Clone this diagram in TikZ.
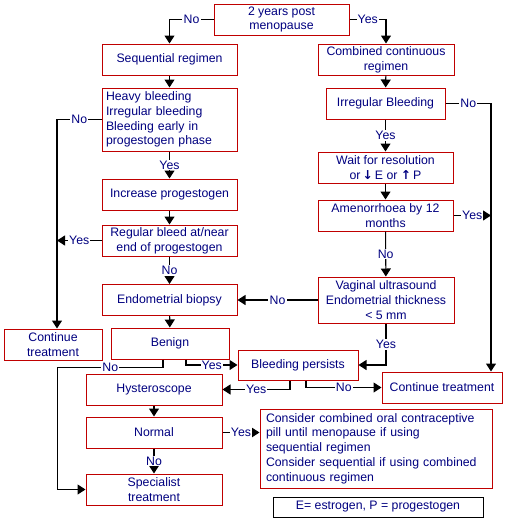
\documentclass[tikz,border=0pt]{standalone}
\usepackage{fontspec}
\setmainfont{Liberation Sans}
\newfontfamily\arrowfont{DejaVu Sans}
\usepackage{tikz}
\usepackage{xcolor}
\usetikzlibrary{arrows.meta}

\definecolor{navy}{RGB}{0,0,128}
\definecolor{boxred}{RGB}{192,0,0}

\begin{document}
\begin{tikzpicture}[x=1pt,y=-1pt,
    every node/.style={font=\fontsize{12.3}{14.8}\selectfont,text=navy},
    box/.style={draw=boxred,line width=1pt,minimum width=135pt,minimum height=31pt,
      align=center,inner sep=2pt},
    lbl/.style={fill=white,inner sep=1.2pt},
    arr/.style={line width=1.1pt,-{Triangle[length=8pt,width=10pt]}},
    con/.style={line width=1.1pt}]
  \useasboundingbox[fill=white] (0,0) rectangle (504,520);
  % left branch
  \node[box] (top) at (281.5,19.5) {2 years post\\menopause};
  \node[box] (seq) at (169.5,59.5) {Sequential regimen};
  \node[box,minimum height=63pt,text width=127pt,align=left,inner xsep=4pt]
    (heavy) at (169.5,119.5)
    {Heavy bleeding\\Irregular bleeding\\Bleeding early in\\progestogen phase};
  \node[box] (incr) at (169.5,194.5) {Increase progestogen};
  \node[box] (reg) at (169.5,240.5) {Regular bleed at/near\\end of progestogen};
  \node[box] (biopsy) at (169.5,300) {Endometrial biopsy};
  \node[box,minimum width=98pt] (cont1) at (53,344.5) {Continue\\treatment};
  \node[box,minimum width=118pt] (benign) at (170,343.5) {Benign};
  % right branch
  \node[box,minimum width=136pt] (comb) at (386,59.5) {Combined continuous\\regimen};
  \node[box,minimum width=119pt] (irreg) at (385.5,103.5) {Irregular Bleeding};
  \node[box] (wait) at (385.5,167.5)
    {Wait for resolution\\or\,{\arrowfont\bfseries ↓}\,E or {\arrowfont\bfseries ↑}\,P};
  \node[box] (amen) at (385.5,215.5) {Amenorrhoea by 12\\months};
  \node[box,minimum width=136pt,minimum height=46pt] (vag) at (386,300)
    {Vaginal ultrasound\\Endometrial thickness\\\textless\ 5 mm};
  % bottom part
  \node[box,minimum width=120pt,minimum height=30pt] (persist) at (298,365) {Bleeding persists};
  \node[box,minimum width=136pt] (hyst) at (154,389.5) {Hysteroscope};
  \node[box,minimum width=136pt] (normal) at (154,432.5) {Normal};
  \node[box,minimum width=136pt] (spec) at (154,489.5) {Specialist\\treatment};
  \node[box,minimum width=120pt] (cont2) at (442,387.5) {Continue treatment};
  \node[box,minimum height=79pt,text width=220pt,align=left,inner xsep=6pt]
    (consider) at (376,448.5)
    {Consider combined oral contraceptive\\pill until menopause if using\\sequential regimen\\
     Consider sequential if using combined\\continuous regimen};
  \node[draw=black,line width=1pt,minimum width=210pt,minimum height=20pt,inner sep=1pt]
    (key) at (378,507) {E= estrogen, P = progestogen};
  % rails
  \coordinate (leftrail) at ([xshift=4pt]cont1.north);
  \coordinate (rightrail) at ([xshift=49pt]cont2.north);
  % connectors
  \draw[arr] (top.west) -| node[pos=.25,lbl] {No} (seq.north);
  \draw[arr] (top.east) -| node[pos=.25,lbl] {Yes} (comb.north);
  \draw[arr] (seq) -- (heavy);
  \draw[arr] (heavy) -- node[lbl] {Yes} (incr);
  \draw[arr] (heavy.west) -| node[pos=.25,lbl] {No} (leftrail);
  \draw[arr] (incr) -- (reg);
  \draw[arr] (reg.west) -- node[lbl] {Yes} (reg.west -| leftrail);
  \draw[arr] (reg) -- node[lbl] {No} (biopsy);
  \draw[arr] (biopsy) -- (benign);
  \draw[arr] (comb) -- (irreg);
  \draw[arr] (irreg.east) -| node[pos=.25,lbl] {No} (rightrail);
  \draw[arr] (irreg) -- node[lbl] {Yes} (wait);
  \draw[arr] (wait) -- (amen);
  \draw[arr] (amen.east) -- node[lbl] {Yes} (amen.east -| rightrail);
  \draw[arr] (amen) -- node[lbl] {No} (vag);
  \draw[arr] (vag.west) -- node[lbl] {No} (biopsy.east);
  \draw[arr] (vag.south) |- node[pos=.25,lbl] {Yes} (persist.east);
  \draw[arr] ([xshift=-7pt]benign.south) -- ++(0,8) -| node[pos=.25,lbl] {No}
    ([xshift=-28pt]spec.west) -- (spec.west);
  \draw[arr] ([xshift=16pt]benign.south) |- node[pos=.75,lbl] {Yes} (persist.west);
  \draw[arr] ([xshift=-8pt]persist.south) |- node[pos=.75,lbl] {Yes} (hyst.east);
  \draw[arr] ([xshift=8pt]persist.south) |- node[pos=.75,lbl] {No} (cont2.west);
  \draw[arr] (hyst) -- (normal);
  \draw[arr] (normal.east) -- node[lbl] {Yes} (normal.east -| consider.west);
  \draw[arr] (normal) -- node[lbl] {No} (spec);
\end{tikzpicture}
\end{document}
